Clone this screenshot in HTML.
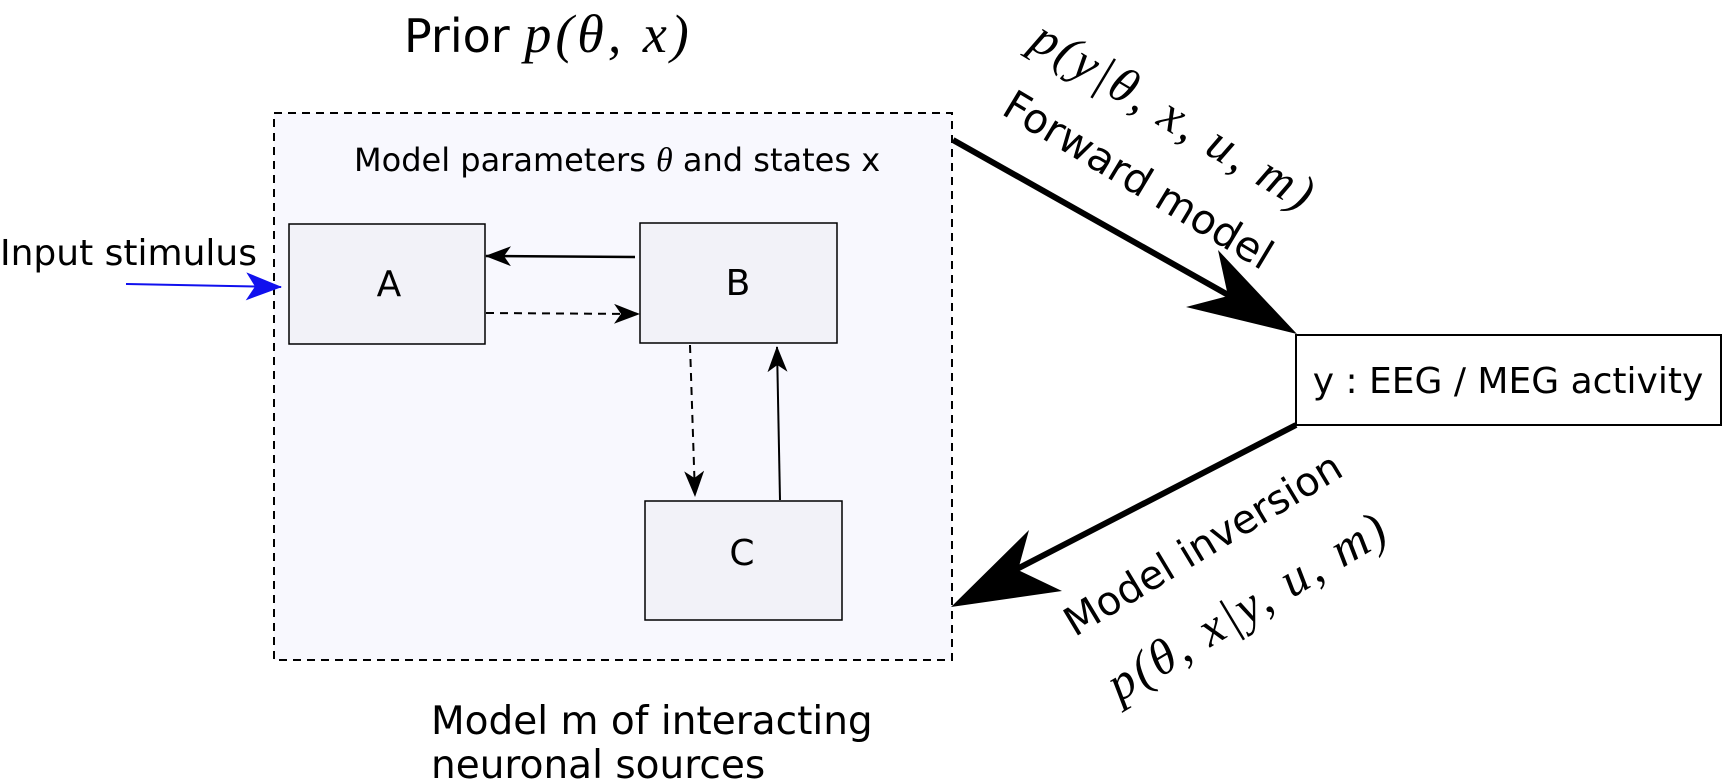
<!DOCTYPE html>
<html><head><meta charset="utf-8"><style>
html,body{margin:0;padding:0;background:#fff;width:1722px;height:781px;overflow:hidden}
text{font-family:"DejaVu Sans","Liberation Sans",sans-serif;fill:#000}
.m{font-family:"Liberation Serif","DejaVu Serif",serif;font-style:italic}
</style></head><body>
<svg width="1722" height="781" viewBox="0 0 1722 781" xmlns="http://www.w3.org/2000/svg">
<defs>
<marker id="ahl" markerWidth="26" markerHeight="20" refX="25" refY="10" orient="auto" markerUnits="userSpaceOnUse" viewBox="0 0 26 20">
<path d="M0,0 L26,10 L0,20 L7,10 Z" fill="#000"/></marker>
<marker id="ahb" markerWidth="36" markerHeight="28" refX="35" refY="14" orient="auto" markerUnits="userSpaceOnUse" viewBox="0 0 36 28">
<path d="M0,0 L36,14 L0,28 L9,14 Z" fill="#1010ee"/></marker>
</defs>
<text x="404" y="52" font-size="46">Prior <tspan class="m" font-size="54" letter-spacing="4">p(θ, x)</tspan></text>
<rect x="274" y="113" width="678" height="547" fill="#f8f8fe" stroke="#000" stroke-width="2" stroke-dasharray="8,6"/>
<text x="354" y="171" font-size="32">Model parameters <tspan class="m" font-size="34">θ</tspan> and states x</text>
<rect x="289" y="224" width="196" height="120" fill="#f2f2f8" stroke="#000" stroke-width="1.5"/>
<rect x="640" y="223" width="197" height="120" fill="#f2f2f8" stroke="#000" stroke-width="1.5"/>
<rect x="645" y="501" width="197" height="119" fill="#f2f2f8" stroke="#000" stroke-width="1.5"/>
<text x="389" y="296" font-size="36" text-anchor="middle">A</text>
<text x="738" y="295" font-size="36" text-anchor="middle">B</text>
<text x="742" y="565" font-size="36" text-anchor="middle">C</text>
<text x="0" y="265" font-size="36">Input stimulus</text>
<line x1="126" y1="284" x2="281" y2="287" stroke="#1010ee" stroke-width="2" marker-end="url(#ahb)"/>
<line x1="635" y1="257" x2="486" y2="256" stroke="#000" stroke-width="2.5" marker-end="url(#ahl)"/>
<line x1="486" y1="313" x2="639" y2="314" stroke="#000" stroke-width="2" stroke-dasharray="8,6" marker-end="url(#ahl)"/>
<line x1="690" y1="345" x2="695" y2="496" stroke="#000" stroke-width="2" stroke-dasharray="8,6" marker-end="url(#ahl)"/>
<line x1="780" y1="500" x2="777" y2="347" stroke="#000" stroke-width="2" marker-end="url(#ahl)"/>
<rect x="1296" y="335" width="425" height="90" fill="#fff" stroke="#000" stroke-width="2"/>
<text x="1508" y="393" font-size="36" text-anchor="middle">y : EEG / MEG activity</text>
<line x1="953" y1="140" x2="1230" y2="296" stroke="#000" stroke-width="6"/>
<path d="M1297,334 L1218,250 L1228,296 L1186,307 Z" fill="#000"/>
<line x1="1296" y1="425" x2="1015" y2="570" stroke="#000" stroke-width="6"/>
<path d="M951,607 L1029,530 L1018,570 L1062,591 Z" fill="#000"/>
<text transform="translate(1131,192) rotate(31)" font-size="41" text-anchor="middle">Forward model</text>
<text class="m" transform="translate(1166,130) rotate(31)" font-size="50" letter-spacing="3" text-anchor="middle">p(y|θ, x, u, m)</text>
<text transform="translate(1210,556) rotate(-31)" font-size="40" text-anchor="middle">Model inversion</text>
<text class="m" transform="translate(1256,620) rotate(-31)" font-size="50" letter-spacing="3" text-anchor="middle">p(θ, x|y, u, m)</text>
<text x="431" y="734" font-size="39">Model m of  interacting</text>
<text x="431" y="778" font-size="39">neuronal sources</text>
</svg>
</body></html>
